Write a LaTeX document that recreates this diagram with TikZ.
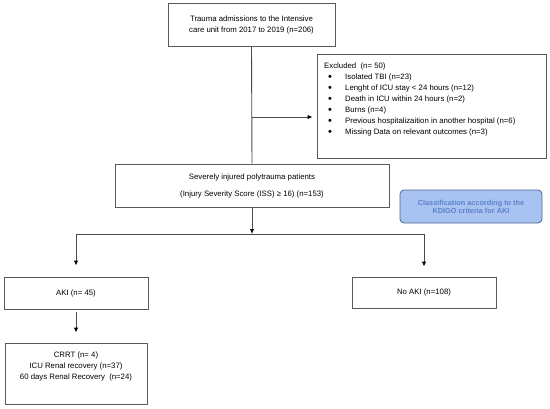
\documentclass[tikz,border=0pt]{standalone}
\usepackage{fontspec}
\setmainfont{Liberation Sans}
\usetikzlibrary{arrows.meta}
\definecolor{boxgray}{HTML}{5A5A5A}
\definecolor{linegray}{HTML}{4A4A4A}
\definecolor{kdigofill}{HTML}{A8C3F2}
\definecolor{kdigodraw}{HTML}{4F6690}
\definecolor{kdigotext}{HTML}{5C82C9}
\tikzset{
  box/.style={draw=boxgray, line width=0.9pt, fill=white, inner sep=0pt, align=center,
              font=\fontsize{7.8}{11}\selectfont},
  plain/.style={inner sep=0pt, align=left, font=\fontsize{7.8}{11}\selectfont},
  kdigo/.style={draw=kdigodraw, line width=0.8pt, fill=kdigofill, rounded corners=4pt,
                inner sep=0pt, align=center, text=kdigotext,
                font=\fontsize{7.3}{7.8}\selectfont\bfseries},
  conn/.style={draw=linegray, line width=0.9pt},
  arr/.style={conn, -{Latex[length=5pt,width=4.5pt,color=black]}}
}
\newcommand{\bitem}[1]{\hspace*{4pt}\makebox[17pt][l]{\raisebox{-0.6pt}{\fontsize{11}{11}\selectfont\textbullet}}#1}
\begin{document}
\begin{tikzpicture}[x=1pt,y=-1pt]
\useasboundingbox (0,0) rectangle (550,408);
% boxes
\node[box, minimum width=167pt, minimum height=43pt] (top) at (251.5,24.5)
  {Trauma admissions to the Intensive\\care unit from 2017 to 2019 (n=206)};
\node[box, minimum width=229pt, minimum height=104pt] (exc) at (431.5,106) {};
\node[plain, anchor=north west] (exctext) at (324,63)
  {Excluded~~(n= 50)\\
   \bitem{Isolated TBI (n=23)}\\
   \bitem{Lenght of ICU stay < 24 hours (n=12)}\\
   \bitem{Death in ICU within 24 hours (n=2)}\\
   \bitem{Burns (n=4)}\\
   \bitem{Previous hospitalizaition in another hospital (n=6)}\\
   \bitem{Missing Data on relevant outcomes (n=3)}};
\node[box, minimum width=274pt, minimum height=43pt] (sev) at (252,185.5)
  {Severely injured polytrauma patients\\[6pt](Injury Severity Score (ISS) ≥ 16) (n=153)};
\node[kdigo, minimum width=142pt, minimum height=33pt] (kd) at (471,206.5)
  {Classification according to the\\KDIGO criteria for AKI};
\node[box, minimum width=144pt, minimum height=32pt] (aki) at (76,293) {AKI (n= 45)};
\node[box, minimum width=144pt, minimum height=31pt] (noaki) at (424,292.5) {No AKI (n=108)};
\node[box, minimum width=142pt, minimum height=61pt] (crrt) at (76,373.5) {};
\node[plain, align=center, anchor=north] (crrttext) at (76,351.5)
  {CRRT (n= 4)\\ICU Renal recovery (n=37)\\60 days Renal Recovery~~(n=24)};
% connectors
\coordinate (ex) at (252,117);
\coordinate (j) at (252,234);
\coordinate (jl) at (76,234);
\coordinate (jr) at (424,234);
\draw[conn] (top.south) -- (sev.north);
\draw[arr, shorten >=4pt] (ex) -- (exc.west |- ex);
\draw[arr] (sev.south) -- (j);
\draw[conn] (jl) -- (jr);
\draw[arr, shorten >=11pt] (jl) -- (aki.north);
\draw[arr, shorten >=10pt] (jr) -- (noaki.north);
\draw[arr, shorten <=3pt, shorten >=10pt] (aki.south) -- (crrt.north);
\end{tikzpicture}
\end{document}
